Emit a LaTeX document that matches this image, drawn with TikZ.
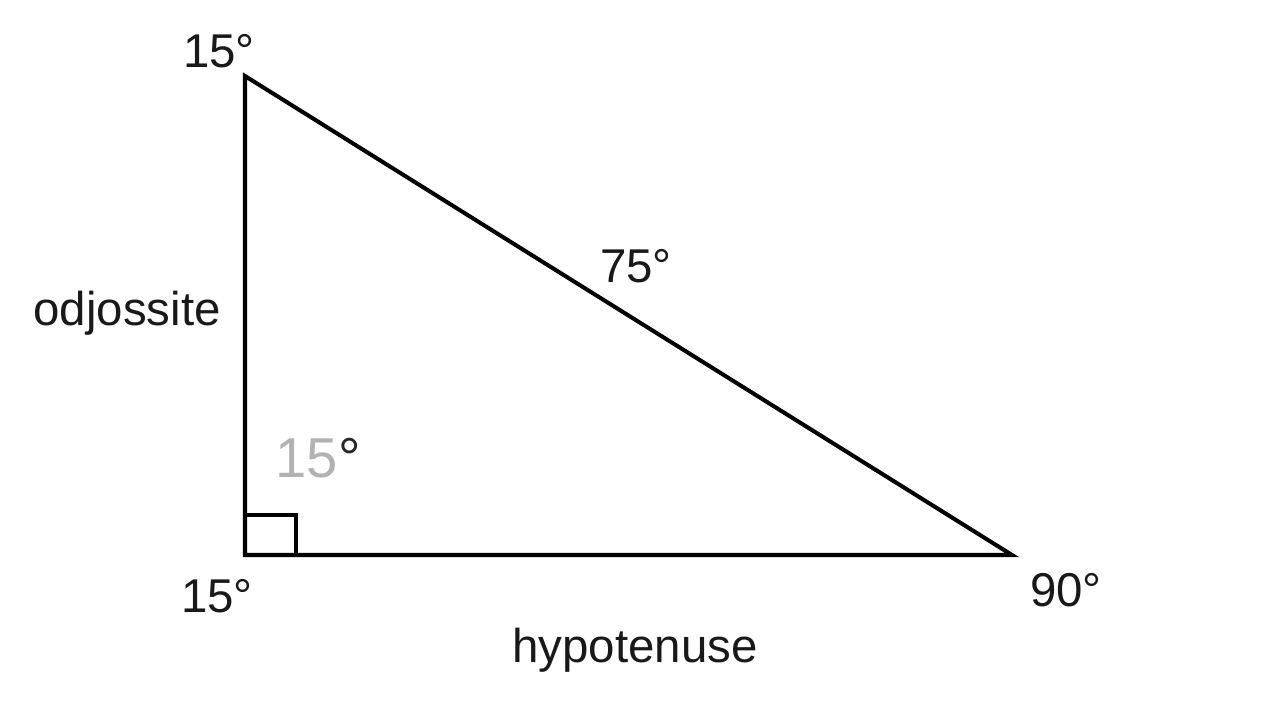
\documentclass[tikz,border=0pt]{standalone}
\usepackage{fontspec}
\setmainfont{Liberation Sans}
\usepackage{tikz}

\tikzset{
  lbl/.style={font=\fontsize{27}{32}\selectfont, text=black!90},
  side/.style={line width=2.3pt, line join=miter}
}

\begin{document}
\begin{tikzpicture}[x=0.02cm, y=-0.02cm]
            \useasboundingbox (0,0) rectangle (1280,720);
            \coordinate (top) at (245,76);
            \coordinate (corner) at (245,555);
            \coordinate (right) at (1012,555);
            \draw [side] (top) -- (corner) -- (right) -- cycle;
            \draw [side] (245,515) -- (296,515) -- (296,555);
            \node [lbl] (topangle) at (219,51) {15°};
            \node [lbl] (midangle) at (636,266) {75°};
            \node [lbl] (cornerangle) at (217,596) {15°};
            \node [lbl] (rightangle) at (1066,590) {90°};
            \node [lbl] (opp) at (127,313) {odjossite};
            \node [lbl] (hyp) at (635,650) {hypotenuse};
            \node [font=\fontsize{32}{36}\selectfont, text=black!30] (faint) at (318,458) {15{\color{black!85}°}};
        \end{tikzpicture}
\end{document}
